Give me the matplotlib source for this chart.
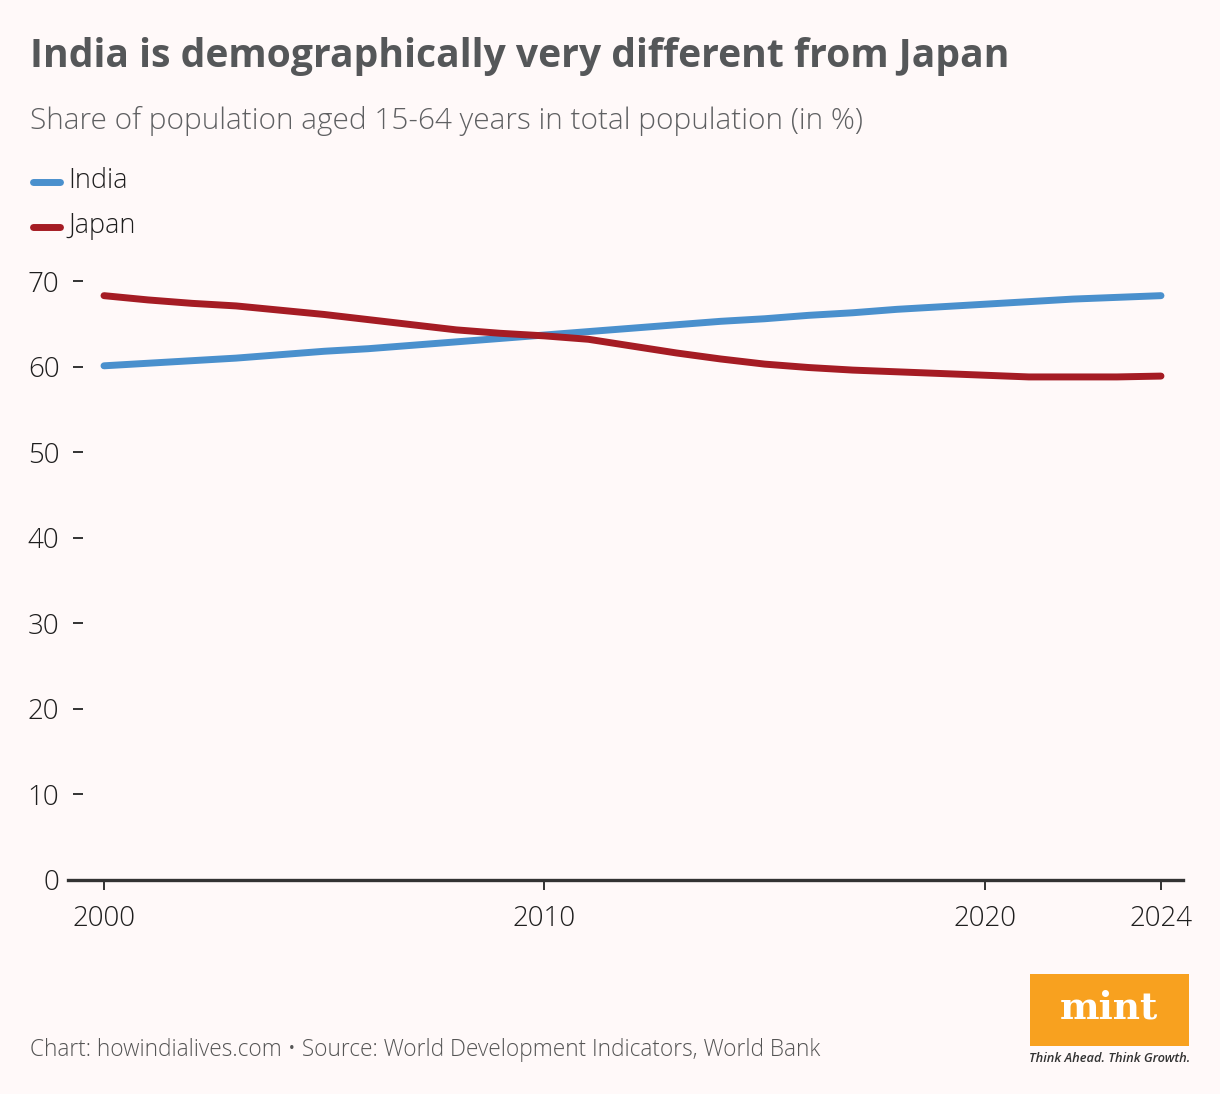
import matplotlib
matplotlib.use("Agg")
import matplotlib.pyplot as plt
from matplotlib.patches import Rectangle

years = list(range(2000, 2025))
india = [60.1, 60.4, 60.7, 61.0, 61.4, 61.8, 62.1, 62.5, 62.9, 63.3,
         63.7, 64.1, 64.5, 64.9, 65.3, 65.6, 66.0, 66.3, 66.7, 67.0,
         67.3, 67.6, 67.9, 68.1, 68.3]
japan = [68.3, 67.8, 67.4, 67.1, 66.6, 66.1, 65.5, 64.9, 64.3, 63.9,
         63.6, 63.2, 62.4, 61.6, 60.9, 60.3, 59.9, 59.6, 59.4, 59.2,
         59.0, 58.8, 58.8, 58.8, 58.9]
x_ticks = [2000, 2010, 2020, 2024]
y_ticks = [0, 10, 20, 30, 40, 50, 60, 70]

bg = "#fff9f9"
c_india = "#4a90cd"
c_japan = "#a51c24"

plt.rcParams['font.family'] = ['Open Sans', 'DejaVu Sans']

W, H = 1220, 1094
fig = plt.figure(figsize=(W / 100, H / 100), dpi=100, facecolor=bg)
ax = fig.add_axes([83 / W, 214 / H, 1100 / W, 616 / H], facecolor=bg)

ax.plot(years, india, color=c_india, lw=5, solid_capstyle='round', zorder=3)
ax.plot(years, japan, color=c_japan, lw=5, solid_capstyle='round', zorder=3)
ax.axhline(0, xmin=-15 / 1100, xmax=1, color="#333333", lw=2.4, clip_on=False, zorder=4)

ax.set_xlim(2000 - 21 / 44.04, 2024.5)
ax.set_ylim(0, 72)
ax.set_xticks(x_ticks)
ax.set_yticks(y_ticks)
for s in ax.spines.values():
    s.set_visible(False)
ax.tick_params(axis='y', length=7, width=1.4, color="#333333", pad=10,
               labelsize=20, labelcolor="#1e1e1e")
ax.tick_params(axis='x', length=7, width=1.4, color="#333333", pad=11,
               labelsize=20, labelcolor="#1e1e1e")
for lab in ax.get_xticklabels() + ax.get_yticklabels():
    lab.set_fontweight('light')

# title / subtitle
fig.text(30 / W, 1 - 56 / H, "India is demographically very different from Japan",
         fontsize=28.2, fontweight='bold', color="#555759", va='center', ha='left')
fig.text(30 / W, 1 - 121 / H, "Share of population aged 15-64 years in total population (in %)",
         fontsize=21.4, fontweight='light', color="#5f6062", va='center', ha='left')

# legend
for i, (name, col) in enumerate([("India", c_india), ("Japan", c_japan)]):
    yy = 1 - (182 + 45 * i) / H
    fig.add_artist(plt.Line2D([33 / W, 60 / W], [yy, yy], color=col, lw=5,
                              solid_capstyle='round', transform=fig.transFigure))
    fig.text(68 / W, yy + 0.001, name, fontsize=19.5, fontweight='light', color="#1e1e1e",
             va='center', ha='left')

# footer
fig.text(30 / W, 1 - 1050 / H,
         "Chart: howindialives.com \u2022 Source: World Development Indicators, World Bank",
         fontsize=16.3, fontweight='light', color="#555555", va='center', ha='left')

# mint logo
fig.add_artist(Rectangle((1030 / W, 1 - 1046 / H), 159 / W, 72 / H,
                         transform=fig.transFigure, facecolor="#f8a11f", edgecolor='none'))
fig.text(1109 / W, 1 - 1008 / H, "mint", fontsize=27, fontweight='bold',
         family=['DejaVu Serif'], color="white", va='center', ha='center')
fig.text(1110 / W, 1 - 1059 / H, "Think Ahead. Think Growth.", fontsize=9.3,
         fontstyle='italic', fontweight='semibold', color="#333333", va='center', ha='center')

fig.savefig("out.png", dpi=100, facecolor=bg)
